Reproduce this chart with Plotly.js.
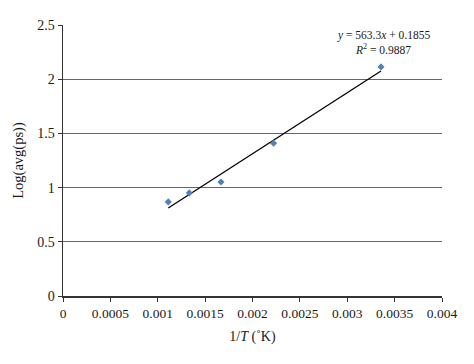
<!DOCTYPE html>
<html>
<head>
<script src="https://cdn.plot.ly/plotly-3.0.1.min.js"></script>
<style>html,body{margin:0;padding:0;background:#fff}</style>
</head>
<body>
<div id="chart" style="width:474px;height:364px"></div>
<script>
// Data
const invT = [0.001111, 0.001333, 0.001667, 0.002222, 0.003356];
const logAvgPs = [0.868, 0.951, 1.052, 1.410, 2.113];
// Linear trendline reported on the chart
const slope = 563.3;
const intercept = 0.1855;
const rSquared = 0.9887;
const xTickVals = [0, 0.0005, 0.001, 0.0015, 0.002, 0.0025, 0.003, 0.0035, 0.004];
const xTickText = ['0', '0.0005', '0.001', '0.0015', '0.002', '0.0025', '0.003', '0.0035', '0.004'];
const yTickVals = [0, 0.5, 1, 1.5, 2, 2.5];
const yTickText = ['0', '0.5', '1', '1.5', '2', '2.5'];

const xMin = Math.min(...invT), xMax = Math.max(...invT);
const trendX = [xMin, xMax];
const trendY = trendX.map(x => slope * x + intercept);

const font = {family: '"Liberation Serif", "Times New Roman", serif', color: '#1a1a1a', size: 13};

const data = [
  {x: trendX, y: trendY, mode: 'lines', type: 'scatter',
   line: {color: '#000', width: 1.3}, hoverinfo: 'skip'},
  {x: invT, y: logAvgPs, mode: 'markers', type: 'scatter',
   marker: {symbol: 'diamond', size: 5.5, color: '#4f81bd'}}
];

const layout = {
  width: 474, height: 364,
  margin: {l: 63, r: 32, t: 25, b: 68},
  showlegend: false,
  paper_bgcolor: '#fff', plot_bgcolor: '#fff',
  font: font,
  xaxis: {
    range: [0, 0.004], tickvals: xTickVals, ticktext: xTickText,
    showgrid: false, zeroline: false,
    showline: true, linecolor: '#333', linewidth: 1.5,
    ticks: 'outside', ticklen: 4, tickcolor: '#333',
    tickfont: {size: 13.5},
    title: {text: '1/<i>T</i> (˚K)', font: {size: 14}, standoff: 11}
  },
  yaxis: {
    range: [0, 2.5], tickvals: yTickVals, ticktext: yTickText,
    showgrid: true, gridcolor: '#666', gridwidth: 1.2,
    zeroline: false,
    showline: true, linecolor: '#333', linewidth: 1.5,
    ticks: 'outside', ticklen: 4, tickcolor: '#333',
    tickfont: {size: 14},
    title: {text: 'Log(avg(ps))', font: {size: 14.5}, standoff: 10}
  },
  annotations: [
    {xref: 'paper', yref: 'paper', x: 0.845, y: 0.962, xanchor: 'center', yanchor: 'middle',
     showarrow: false, font: {size: 11.5},
     text: '<i>y</i> = ' + slope + '<i>x</i> + ' + intercept},
    {xref: 'paper', yref: 'paper', x: 0.845, y: 0.91, xanchor: 'center', yanchor: 'middle',
     showarrow: false, font: {size: 11.5},
     text: '<i>R</i><sup>2</sup> = ' + rSquared}
  ]
};

Plotly.newPlot('chart', data, layout, {displayModeBar: false, staticPlot: true});
</script>
</body>
</html>
